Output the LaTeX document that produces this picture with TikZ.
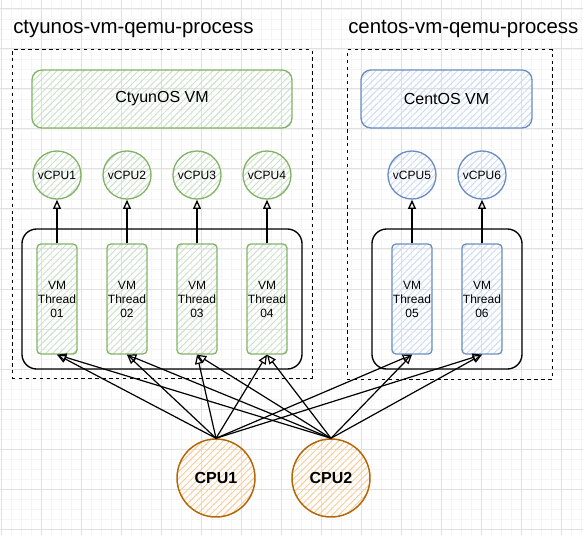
\documentclass[tikz,border=0pt]{standalone}
\usepackage{fontspec}
\setmainfont{Liberation Sans}
\usetikzlibrary{arrows.meta,patterns.meta}
\definecolor{gstroke}{HTML}{82B366}
\definecolor{gfill}{HTML}{C9E2C7}
\definecolor{bstroke}{HTML}{6C8EBF}
\definecolor{bfill}{HTML}{C8DCF6}
\definecolor{ostroke}{HTML}{B46504}
\definecolor{ofill}{HTML}{F7CC98}
\definecolor{minorcol}{HTML}{F5F5F5}
\definecolor{majorcol}{HTML}{E0E0E0}

\begin{document}
\begin{tikzpicture}[x=0.75pt,y=-0.75pt,
    minorline/.style={draw=minorcol,line width=0.6pt},
    majorline/.style={draw=majorcol,line width=0.75pt},
    title/.style={anchor=base west,inner sep=0,font=\fontsize{15.3}{18}\selectfont},
    process/.style={draw,dashed,dash pattern=on 2.6pt off 2.6pt,line width=0.75pt,inner sep=0},
    vm/.style={draw=#1stroke,line width=1pt,rounded corners=7.5pt,
        pattern={Lines[angle=45,distance=3.6pt,line width=0.7pt]},pattern color=#1fill,
        minimum height=43.5pt,inner sep=0,font=\fontsize{12}{14}\selectfont},
    vcpu/.style={circle,draw=#1stroke,line width=1pt,minimum size=36pt,inner sep=0,
        pattern={Lines[angle=45,distance=3.6pt,line width=0.7pt]},pattern color=#1fill,
        font=\fontsize{9}{10.5}\selectfont},
    group/.style={draw,line width=1pt,rounded corners=11pt,minimum height=105pt,inner sep=0},
    thread/.style={draw=#1stroke,line width=1pt,rounded corners=3pt,
        minimum width=30pt,minimum height=82.5pt,inner sep=0,align=center,
        pattern={Lines[angle=45,distance=3.6pt,line width=0.7pt]},pattern color=#1fill,
        font=\fontsize{9}{10.5}\selectfont},
    cpu/.style={circle,draw=ostroke,line width=1.1pt,minimum size=58.5pt,inner sep=0,
        pattern={Lines[angle=45,distance=3.6pt,line width=0.7pt]},pattern color=ofill,
        font=\fontsize{12}{14}\selectfont\bfseries},
    up/.style={-{Triangle[open,length=7pt,width=6pt]},line width=1pt},
    link/.style={-{Triangle[open,length=7pt,width=6pt]},line width=0.9pt}]
    \useasboundingbox (0,0) rectangle (583,535);
    %grid
    \foreach \gx in {1,11,...,581} \draw[minorline] (\gx,0) -- (\gx,535);
    \foreach \gy in {9,19,...,529} \draw[minorline] (0,\gy) -- (583,\gy);
    \foreach \gx in {1,41,...,581} \draw[majorline] (\gx,0) -- (\gx,535);
    \foreach \gy in {9,49,...,529} \draw[majorline] (0,\gy) -- (583,\gy);

    %processes
    \node[title] (ttl1) at (13,34) {ctyunos-vm-qemu-process};
    \node[title] (ttl2) at (348,34) {centos-vm-qemu-process};
    \node[process,minimum width=225pt,minimum height=246pt] (proc1) at (162,214) {};
    \node[process,minimum width=153.75pt,minimum height=246.75pt] (proc2) at (449.5,214.5) {};

    %vms
    \node[vm=g,minimum width=195pt] (ctyun) at (162,99) {CtyunOS VM};
    \node[vm=b,minimum width=128.25pt] (centos) at (446.5,99) {CentOS VM};

    %vcpus
    \node[vcpu=g] (v1) at (57,175) {vCPU1};
    \node[vcpu=g] (v2) at (127,175) {vCPU2};
    \node[vcpu=g] (v3) at (197,175) {vCPU3};
    \node[vcpu=g] (v4) at (267,175) {vCPU4};
    \node[vcpu=b] (v5) at (412,175) {vCPU5};
    \node[vcpu=b] (v6) at (482,175) {vCPU6};

    %threads
    \node[group,minimum width=210pt] (grp1) at (162,299) {};
    \node[group,minimum width=112.5pt] (grp2) at (447,299) {};
    \node[thread=g] (t1) at (57,299) {VM\\Thread\\01};
    \node[thread=g] (t2) at (127,299) {VM\\Thread\\02};
    \node[thread=g] (t3) at (197,299) {VM\\Thread\\03};
    \node[thread=g] (t4) at (267,299) {VM\\Thread\\04};
    \node[thread=b] (t5) at (412,299) {VM\\Thread\\05};
    \node[thread=b] (t6) at (482,299) {VM\\Thread\\06};
    \foreach \i in {1,...,6} \draw[up] (t\i) -- (v\i);

    %cpus
    \node[cpu] (cpu1) at (216,478) {CPU1};
    \node[cpu] (cpu2) at (331,478) {CPU2};
    \foreach \c in {cpu1,cpu2}
        \foreach \i in {1,...,6} \draw[link] (\c.north) -- (t\i.south);

\end{tikzpicture}
\end{document}
